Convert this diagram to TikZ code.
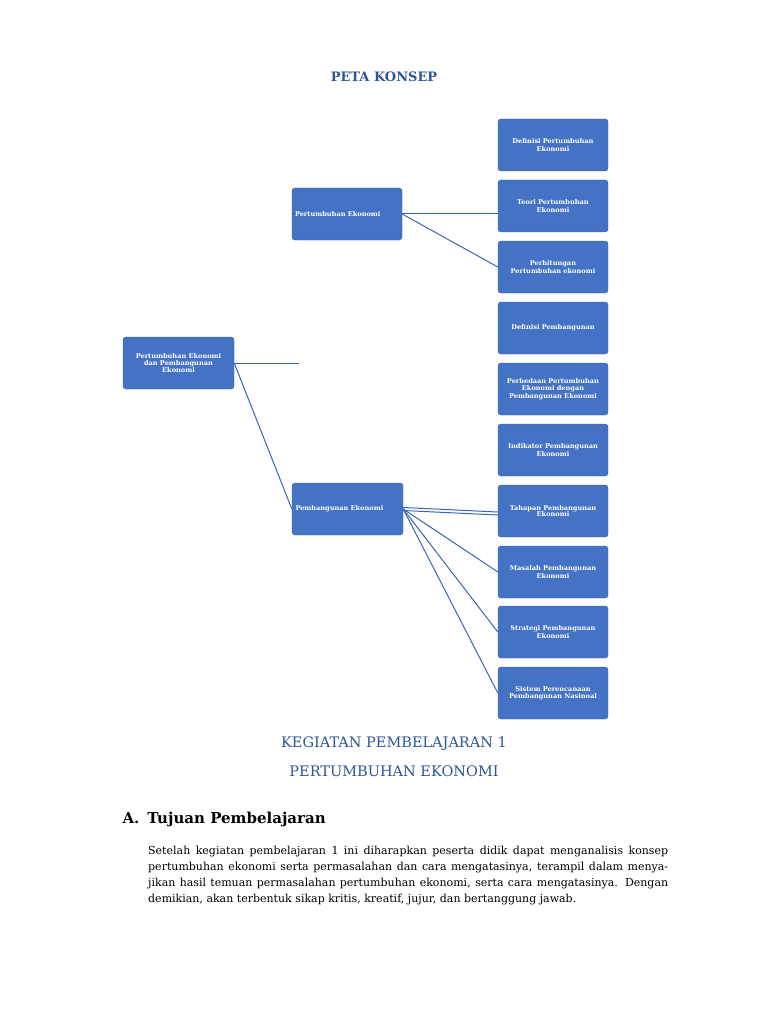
\documentclass[tikz,border=0pt]{standalone}
\usepackage{fontspec}
\setmainfont{DejaVu Serif}
\definecolor{boxblue}{HTML}{4472C4}
\definecolor{headblue}{HTML}{2F5597}
\definecolor{lineblue}{HTML}{3A63B8}
\begin{document}
\begin{tikzpicture}[x=1pt,y=-1pt,
  bx/.style={fill=boxblue,draw=boxblue!80!black,rounded corners=3pt,text=white,font=\fontsize{6.6}{7.4}\selectfont\bfseries,align=center,inner sep=1pt},
  cn/.style={draw=lineblue,line width=1pt}]
\useasboundingbox (0,0) rectangle (768,1024);
\node[font=\fontsize{13}{16}\selectfont\bfseries,text=headblue] (title) at (384,77) {PETA KONSEP};
\node[bx,minimum width=111pt,minimum height=52pt,text width=106pt] (root) at (178.5,363) {Pertumbuhan Ekonomi\\dan Pembangunan\\Ekonomi};
\node[bx,minimum width=110pt,minimum height=52pt,text width=104pt,align=left] (pe) at (347,214) {Pertumbuhan Ekonomi};
\node[bx,minimum width=111pt,minimum height=52pt,text width=104pt,align=left] (pb) at (347.5,509) {Pembangunan Ekonomi};
\foreach \n/\y/\t in {r1/145/{Definisi Pertumbuhan\\Ekonomi},r2/206/{Teori Pertumbuhan\\Ekonomi},r3/267/{Perhitungan\\Pertumbuhan ekonomi},r4/328/{Definisi Pembangunan},r5/389/{Perbedaan Pertumbuhan\\Ekonomi dengan\\Pembangunan Ekonomi},r6/450/{Indikator Pembangunan\\Ekonomi},r7/511/{Tahapan Pembangunan\\[-1.5pt]Ekonomi},r8/572/{Masalah Pembangunan\\Ekonomi},r9/632/{Strategi Pembangunan\\Ekonomi},r10/693/{Sistem Perencanaan\\Pembangunan Nasinoal}}
  \node[bx,minimum width=110pt,minimum height=52pt,text width=108pt] (\n) at (553,\y) {\t};
\coordinate (stub) at (299,363);
\draw[cn] (root.east) -- (stub);
\draw[cn] (root.east) -- (pb.west);
\draw[cn] (pe.east) -- (r2.west |- pe.east);
\draw[cn] (pe.east) -- (r3.west);
\draw[cn] ([yshift=-1.5pt]pb.east) -- ([yshift=-4pt]r7.west);
\draw[cn] ([yshift=1.5pt]pb.east) -- ([yshift=-1pt]r7.west);
\draw[cn] (pb.east) -- (r8.west);
\draw[cn] (pb.east) -- (r9.west);
\draw[cn] (pb.east) -- (r10.west);
\node[font=\fontsize{14.5}{18}\selectfont,text=headblue] (k1) at (394,744) {KEGIATAN PEMBELAJARAN 1};
\node[font=\fontsize{14.5}{18}\selectfont,text=headblue] (k2) at (394,771) {PERTUMBUHAN EKONOMI};
\node[font=\fontsize{15}{18}\selectfont\bfseries,anchor=west] (a) at (119,819) {A.\hspace{8pt}Tujuan Pembelajaran};
\node[font=\fontsize{11}{16}\selectfont,anchor=north west,text width=520pt,align=justify,inner sep=0pt] (p) at (148,846) {Setelah kegiatan pembelajaran 1 ini diharapkan peserta didik dapat menganalisis konsep pertumbuhan ekonomi serta permasalahan dan cara mengatasinya, terampil dalam menyajikan hasil temuan permasalahan pertumbuhan ekonomi, serta cara mengatasinya. Dengan demikian, akan terbentuk sikap kritis, kreatif, jujur, dan bertanggung jawab.};
\end{tikzpicture}
\end{document}
